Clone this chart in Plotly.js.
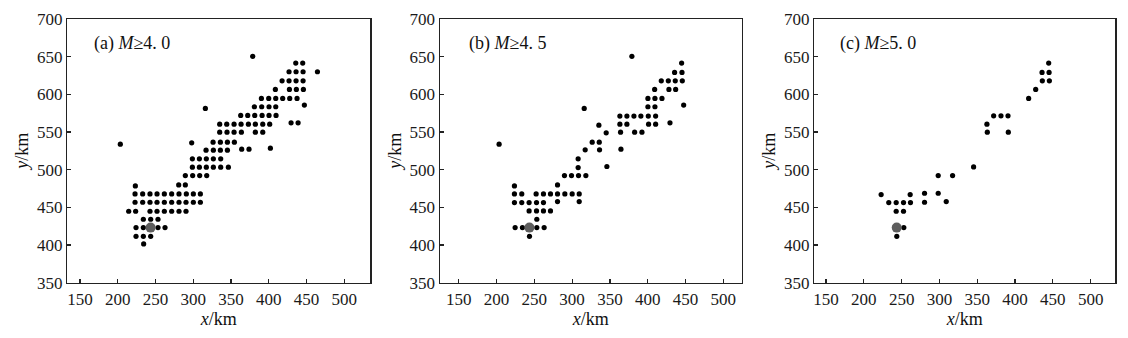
<!DOCTYPE html>
<html><head><meta charset="utf-8">
<script src="https://cdn.plot.ly/plotly-3.0.1.min.js"></script>
<style>html,body{margin:0;padding:0;background:#fff}</style>
</head><body><div id="chart" style="width:1128px;height:338px"></div>
<script>
const panelLabels = ['(a) <i>M</i>≥4. 0', '(b) <i>M</i>≥4. 5', '(c) <i>M</i>≥5. 0'];
const xTicks = [150, 200, 250, 300, 350, 400, 450, 500];
const yTicks = [350, 400, 450, 500, 550, 600, 650, 700];
const mainshockX = [243.5];
const mainshockY = [423.1];

// (a) M>=4.0
const aX = [378.7,
  435.7, 444.9,
  426.8, 436.1, 445.4, 464.4,
  417.6, 426.8, 436.1, 445.4,
  408.7, 427.3, 436.5, 445.8,
  390.2, 399.9, 409.2, 418.4, 427.7, 437.4,
  447.1,
  380.9, 390.6, 400.3, 409.2,
  316.0,
  362.8, 372.1, 381.4, 391.1, 400.3, 409.6,
  429.5, 438.8,
  335.0, 344.3, 354.0, 363.3, 373.0, 382.2, 392.0, 401.2,
  335.0, 344.7, 354.0, 363.7, 382.2, 392.0,
  326.2, 335.9, 345.2, 354.4,
  297.9,
  203.4,
  402.1,
  364.1, 373.8,
  316.9, 326.6, 335.9, 345.2,
  298.8, 308.1, 317.3, 326.6, 336.3,
  298.8, 308.1, 317.3, 326.6, 336.3, 346.5,
  289.5, 299.2, 308.5, 317.8,
  280.7, 289.5,
  223.3,
  222.9, 233.0, 242.7, 252.0, 261.7, 271.4, 281.1, 290.8, 300.1, 309.4,
  222.9, 233.0, 242.7, 252.0, 261.7, 271.4, 281.1, 290.4, 300.1, 309.4,
  214.5, 223.7, 242.7, 252.0, 261.7, 271.4, 281.1, 290.4,
  233.9, 243.6, 253.3,
  224.2, 233.9, 253.3, 262.6,
  224.2, 233.9, 243.6,
  234.3];
const aY = [650.4,
  641.5, 641.5,
  630.0, 630.0, 630.0, 630.0,
  618.0, 618.0, 618.0, 618.0,
  606.5, 606.5, 606.5, 606.5,
  594.6, 594.6, 594.6, 594.6, 594.6, 594.6,
  585.7,
  583.5, 583.5, 583.5, 583.5,
  581.3,
  572.0, 572.0, 572.0, 572.0, 572.0, 572.0,
  562.2, 562.2,
  560.4, 560.4, 560.4, 560.4, 560.4, 560.4, 560.4, 560.4,
  549.8, 549.8, 549.8, 549.8, 549.8, 549.8,
  536.5, 536.5, 536.5, 536.5,
  535.6,
  533.9,
  528.5,
  527.2, 527.2,
  525.9, 525.9, 525.9, 525.9,
  514.4, 514.4, 514.4, 514.4, 514.4,
  503.3, 503.3, 503.3, 503.3, 503.3, 503.3,
  492.2, 492.2, 492.2, 492.2,
  479.8, 479.8,
  478.5,
  467.8, 467.8, 467.8, 467.8, 467.8, 467.8, 467.8, 467.8, 467.8, 467.8,
  456.8, 456.8, 456.8, 456.8, 456.8, 456.8, 456.8, 456.8, 456.8, 456.8,
  444.8, 444.8, 444.8, 444.8, 444.8, 444.8, 444.8, 444.8,
  434.2, 434.2, 434.2,
  423.1, 423.1, 423.1, 423.1,
  411.6, 411.6, 411.6,
  401.4];

// (b) M>=4.5
const bX = [379.1,
  444.9,
  435.6, 445.4,
  418.0, 427.3, 436.5, 445.8,
  409.2, 428.1, 437.0,
  400.3, 409.6, 418.9,
  447.6,
  400.3, 409.6,
  316.0,
  363.2, 372.5, 381.8, 391.0, 400.8, 410.5,
  429.5,
  363.2, 372.5, 401.2, 410.5,
  335.4,
  364.1, 382.7, 392.4,
  345.1,
  326.6, 335.9,
  203.4,
  364.6,
  317.3, 336.3,
  308.0,
  346.0,
  308.0,
  289.9, 299.2, 308.5, 318.2,
  280.7,
  223.7,
  223.7, 233.4, 252.4, 262.1, 271.4, 280.7, 290.4, 300.1, 309.4,
  280.7, 309.4,
  223.7, 233.4, 243.1, 252.9, 262.1,
  243.1, 252.9, 262.1, 271.4,
  253.3,
  224.6, 234.3, 253.3, 263.0,
  243.6];
const bY = [650.4,
  641.5,
  629.1, 629.1,
  618.0, 618.0, 618.0, 618.0,
  606.5, 606.5, 606.5,
  594.6, 594.6, 594.6,
  585.7,
  583.5, 583.5,
  581.3,
  571.1, 571.1, 571.1, 571.1, 571.1, 571.1,
  562.2,
  560.4, 560.4, 560.4, 560.4,
  559.1,
  549.8, 549.8, 549.8,
  548.9,
  536.5, 536.5,
  533.9,
  527.2,
  526.3, 526.3,
  514.4,
  504.2,
  502.8,
  492.2, 492.2, 492.2, 492.2,
  479.8,
  478.5,
  467.8, 467.8, 467.8, 467.8, 467.8, 467.8, 467.8, 467.8, 467.8,
  457.7, 457.7,
  456.3, 456.3, 456.3, 456.3, 456.3,
  445.2, 445.2, 445.2, 445.2,
  434.2,
  423.1, 423.1, 423.1, 423.1,
  411.6];

// (c) M>=5.0
const cX = [444.5,
  435.7, 445.0,
  436.1, 445.4,
  427.3,
  418.0,
  371.7, 381.4, 390.7,
  362.8,
  363.3, 391.1,
  345.2,
  298.4, 317.4,
  280.3, 298.4,
  222.9, 261.3,
  309.0,
  280.3,
  233.0, 242.8, 252.5, 261.7,
  242.8, 252.5,
  252.9,
  243.6];
const cY = [641.5,
  629.1, 629.1,
  618.0, 618.0,
  606.5,
  594.6,
  571.5, 571.5, 571.5,
  560.4,
  549.8, 549.8,
  503.7,
  492.2, 492.2,
  468.7, 468.7,
  467.0, 467.0,
  457.7,
  456.8,
  456.3, 456.3, 456.3, 456.3,
  444.8, 444.8,
  423.1,
  411.6];

const W = 1128, H = 338;
const panels = [
  {x: aX, y: aY, left: 67.3, right: 370.0, range: [133.2, 534.0], lx: 166.5},
  {x: bX, y: bY, left: 440.0, right: 741.7, range: [125.2, 524.4], lx: 161.5},
  {x: cX, y: cY, left: 814.3, right: 1115.0, range: [134.5, 532.2], lx: 165.5}
];
const yDom = [1 - 282.7 / H, 1 - 19 / H];
const FONT = '"Liberation Serif", "Times New Roman", serif';

const traces = [];
const layout = {
  width: W, height: H,
  margin: {l: 0, r: 0, t: 0, b: 0},
  paper_bgcolor: '#fff', plot_bgcolor: '#fff',
  showlegend: false,
  font: {family: FONT, size: 17, color: '#1a1a1a'},
  annotations: []
};
panels.forEach((p, i) => {
  const sfx = i === 0 ? '' : String(i + 1);
  const xa = 'x' + sfx, ya = 'y' + sfx;
  traces.push({
    type: 'scatter', mode: 'markers', x: p.x, y: p.y, xaxis: xa, yaxis: ya,
    marker: {color: '#000', size: 5.2}, hoverinfo: 'skip'
  });
  traces.push({
    type: 'scatter', mode: 'markers', x: mainshockX, y: mainshockY, xaxis: xa, yaxis: ya,
    marker: {color: '#5e5e5e', size: 10}, hoverinfo: 'skip'
  });
  const common = {
    showline: true, linecolor: '#222', linewidth: 1.5, mirror: true,
    ticks: 'inside', ticklen: 4, tickwidth: 1.2, tickcolor: '#222',
    showgrid: false, zeroline: false, automargin: false,
    tickfont: {family: FONT, size: 17, color: '#1a1a1a'}
  };
  layout['xaxis' + sfx] = Object.assign({}, common, {
    domain: [p.left / W, p.right / W], range: p.range, anchor: ya,
    tickvals: xTicks, ticktext: xTicks.map(String),
    title: {text: '<i>x</i>/km', font: {family: FONT, size: 18, color: '#111'}, standoff: 5}
  });
  layout['yaxis' + sfx] = Object.assign({}, common, {
    domain: yDom, range: [350, 700], anchor: xa,
    tickvals: yTicks, ticktext: yTicks.map(String),
    title: {text: '<i>y</i>/km', font: {family: FONT, size: 18, color: '#111'}, standoff: 3}
  });
  layout.annotations.push({
    xref: xa, yref: ya, x: p.lx, y: 668, xanchor: 'left', yanchor: 'middle',
    text: panelLabels[i], showarrow: false,
    font: {family: FONT, size: 18, color: '#111'}
  });
});
Plotly.newPlot('chart', traces, layout, {staticPlot: true, displayModeBar: false});
</script>
</body></html>
